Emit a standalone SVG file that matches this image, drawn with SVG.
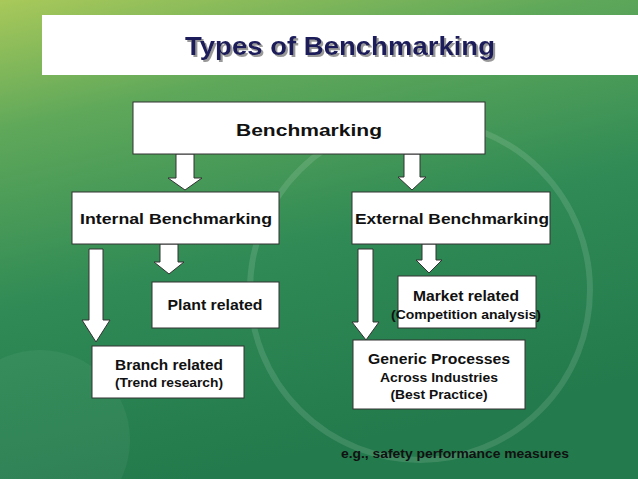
<svg xmlns="http://www.w3.org/2000/svg" width="638" height="479" viewBox="0 0 638 479">
<defs>
<linearGradient id="bg" x1="0" y1="0" x2="0.3" y2="1">
<stop offset="0" stop-color="#a9c95a"/>
<stop offset="0.25" stop-color="#5fa85a"/>
<stop offset="0.6" stop-color="#2f8a55"/>
<stop offset="1" stop-color="#237a4c"/>
</linearGradient>
<filter id="sh" x="-5%" y="-20%" width="110%" height="150%"><feDropShadow dx="2" dy="2" stdDeviation="0.5" flood-color="#999"/></filter>
<style>
.box{fill:#fff;stroke:#333;stroke-width:1}
.t{font-family:"Liberation Sans",Arial,sans-serif;font-weight:bold;fill:#111;text-anchor:middle}
.arr{fill:#fff;stroke:#333;stroke-width:1}
</style>
</defs>
<rect width="638" height="479" fill="url(#bg)"/>
<circle cx="420" cy="290" r="170" fill="none" stroke="#ffffff" stroke-opacity="0.12" stroke-width="6"/>
<circle cx="40" cy="440" r="90" fill="#ffffff" fill-opacity="0.05"/>
<rect x="42" y="15" width="596" height="60" fill="#fff"/>
<text x="340" y="55" class="t" font-size="25" style="fill:#1a1a5a" filter="url(#sh)" textLength="310" lengthAdjust="spacingAndGlyphs">Types of Benchmarking</text>
<g id="connectors">
<polygon class="arr" points="176,154 194,154 194,178 202,178 185,190 168,178 176,178"/>
<polygon class="arr" points="404,154 420,154 420,177 426,177 412,190 398,177 404,177"/>
<polygon class="arr" points="160,244 178,244 178,262 184,262 169,274 154,262 160,262"/>
<polygon class="arr" points="89,249 103,249 103,320 110,320 96,342 82,320 89,320"/>
<polygon class="arr" points="358,249 373,249 373,322 379,322 366,340 352,322 358,322"/>
<polygon class="arr" points="422,244 436,244 436,260 442,260 429,273 416,260 422,260"/>
</g>
<g id="benchmarking"><rect class="box" x="133" y="102" width="352" height="52"/><text class="t" x="309" y="136" font-size="17" textLength="146" lengthAdjust="spacingAndGlyphs">Benchmarking</text></g>
<g id="internal"><rect class="box" x="72" y="192" width="207" height="52"/><text class="t" x="176" y="224" font-size="15.5" textLength="192" lengthAdjust="spacingAndGlyphs">Internal Benchmarking</text></g>
<g id="external"><rect class="box" x="352" y="192" width="198" height="52"/><text class="t" x="452" y="224" font-size="15.5" textLength="194" lengthAdjust="spacingAndGlyphs">External Benchmarking</text></g>
<g id="plant"><rect class="box" x="152" y="282" width="127" height="46"/><text class="t" x="215" y="310" font-size="14" textLength="95" lengthAdjust="spacingAndGlyphs">Plant related</text></g>
<g id="branch"><rect class="box" x="92" y="346" width="152" height="52"/><text class="t" x="169" y="370" font-size="14.5" textLength="108" lengthAdjust="spacingAndGlyphs">Branch related</text><text class="t" x="169" y="387" font-size="12" textLength="108" lengthAdjust="spacingAndGlyphs">(Trend research)</text></g>
<g id="market"><rect class="box" x="398" y="276" width="138" height="52"/><text class="t" x="466" y="301" font-size="14.5" textLength="106" lengthAdjust="spacingAndGlyphs">Market related</text><text class="t" x="466" y="319" font-size="12.5" textLength="150" lengthAdjust="spacingAndGlyphs">(Competition analysis)</text></g>
<g id="generic"><rect class="box" x="353" y="340" width="172" height="69"/><text class="t" x="439" y="364" font-size="14.5" textLength="142" lengthAdjust="spacingAndGlyphs">Generic Processes</text><text class="t" x="439" y="382" font-size="12.5" textLength="118" lengthAdjust="spacingAndGlyphs">Across Industries</text><text class="t" x="439" y="399" font-size="12.5" textLength="97" lengthAdjust="spacingAndGlyphs">(Best Practice)</text></g>
<text class="t" x="455" y="458" font-size="13" textLength="228" lengthAdjust="spacingAndGlyphs">e.g., safety performance measures</text>
</svg>
